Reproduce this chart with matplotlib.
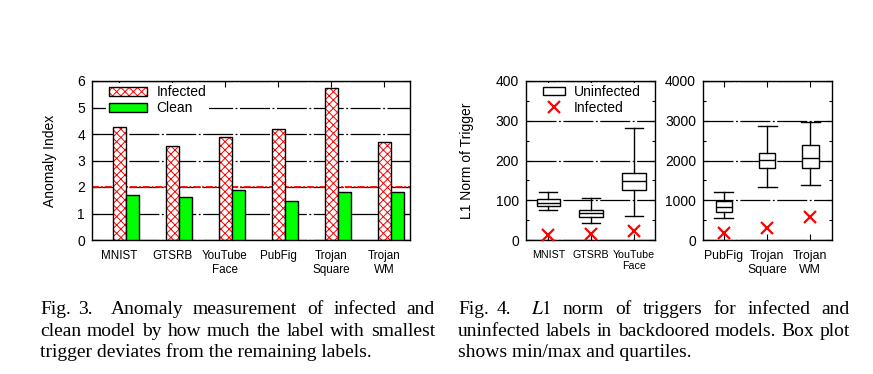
import numpy as np
import matplotlib
matplotlib.use('Agg')
import matplotlib.pyplot as plt
from matplotlib.patches import Patch
from matplotlib.lines import Line2D
from matplotlib.ticker import MultipleLocator

plt.rcParams['font.family'] = ['Liberation Sans', 'DejaVu Sans']
plt.rcParams['mathtext.fontset'] = 'stix'
plt.rcParams['hatch.linewidth'] = 0.7

# fig 3 data: anomaly index
models = ['MNIST', 'GTSRB', 'YouTube\nFace', 'PubFig', 'Trojan\nSquare', 'Trojan\nWM']
anomaly_infected = [4.28, 3.54, 3.90, 4.17, 5.75, 3.68]
anomaly_clean = [1.68, 1.64, 1.87, 1.47, 1.83, 1.83]
threshold = 2

# fig 4 data: L1 norm of triggers (box plot stats)
small_models = ['MNIST', 'GTSRB', 'YouTube\nFace']
small_min = [75, 44, 60]
small_q1 = [85, 57, 127]
small_med = [94, 67, 148]
small_q3 = [102, 75, 168]
small_max = [120, 105, 281]
small_infected = [12, 15, 23]

big_models = ['PubFig', 'Trojan\nSquare', 'Trojan\nWM']
big_min = [545, 1325, 1375]
big_q1 = [713, 1803, 1803]
big_med = [830, 2004, 2055]
big_q3 = [990, 2180, 2398]
big_max = [1200, 2860, 2980]
big_infected = [185, 310, 570]

W, H = 873, 374
fig = plt.figure(figsize=(W / 100, H / 100), dpi=100)


def px_axes(x0, y0, x1, y1):
    return fig.add_axes([x0 / W, 1 - y1 / H, (x1 - x0) / W, (y1 - y0) / H])


# gnuplot-like grid: long dash, short dot
grid_ls = (0, (24, 2, 1.5, 2))


def style(ax):
    ax.tick_params(direction='in', top=True, right=True, length=4, width=0.8,
                   labelsize=10, pad=5)
    ax.tick_params(axis='x', pad=7)
    ax.tick_params(which='minor', direction='in', top=False, right=True,
                   length=2, width=0.8)
    for s in ax.spines.values():
        s.set_linewidth(1.0)
    ax.set_axisbelow(True)
    ax.yaxis.grid(True, color='black', lw=0.9, linestyle=grid_ls)


# ---- Fig. 3 ----
ax1 = px_axes(92, 81, 410, 240)
style(ax1)
x = np.arange(len(models))
bw = 0.245
ax1.bar(x, anomaly_infected, bw, color='white', edgecolor='red', hatch='xxxx', lw=0, zorder=2)
ax1.bar(x, anomaly_infected, bw, fill=False, edgecolor='black', lw=1, zorder=3)
ax1.bar(x + bw, anomaly_clean, bw, color='#00ff00', edgecolor='black', lw=1, zorder=3)
ax1.axhline(threshold, color='red', lw=1.3, ls=(0, (4, 1, 1, 1)), zorder=1.5)
ax1.set_xlim(-0.51, 5.49)
ax1.set_ylim(0, 6)
ax1.yaxis.set_major_locator(MultipleLocator(1))
ax1.set_xticks(x, models, fontsize=8.4)
ax1.set_ylabel('Anomaly Index', fontsize=10, va='center')
ax1.yaxis.set_label_coords(-42 / 318, 0.5)

h_inf = (Patch(facecolor='white', edgecolor='red', hatch='xxxx', lw=0),
         Patch(fill=False, edgecolor='black', lw=1))
h_cln = Patch(facecolor='#00ff00', edgecolor='black', lw=1)
ax1.legend([h_inf, h_cln], ['Infected', 'Clean'], loc='upper left',
           bbox_to_anchor=(0.045, 0.99), fontsize=10, frameon=True, framealpha=1,
           edgecolor='none', fancybox=False, handlelength=2.7, handleheight=0.55,
           handletextpad=0.7, labelspacing=0.15, borderpad=0.2, borderaxespad=0)


# ---- Fig. 4 ----
def box_stats(mins, q1, med, q3, maxs):
    return [dict(whislo=a, q1=b, med=c, q3=d, whishi=e, fliers=[])
            for a, b, c, d, e in zip(mins, q1, med, q3, maxs)]


box_kw = dict(patch_artist=True, manage_ticks=False,
              boxprops=dict(facecolor='white', edgecolor='black', lw=1),
              medianprops=dict(color='black', lw=1),
              whiskerprops=dict(color='black', lw=1),
              capprops=dict(color='black', lw=1), zorder=3)

ax2 = px_axes(526, 81, 655, 240)
style(ax2)
ax2.bxp(box_stats(small_min, small_q1, small_med, small_q3, small_max),
        positions=range(3), widths=0.55, capwidths=0.42, **box_kw)
ax2.plot(range(3), small_infected, 'x', color='red', ms=8, mew=1.6, ls='none',
         clip_on=False, zorder=4)
ax2.set_xlim(-0.52, 2.49)
ax2.set_ylim(0, 400)
ax2.yaxis.set_major_locator(MultipleLocator(100))
ax2.yaxis.set_minor_locator(MultipleLocator(50))
ax2.set_xticks(range(3), small_models, fontsize=7.7)
ax2.set_ylabel('L1 Norm of Trigger', fontsize=10, va='center')
ax2.yaxis.set_label_coords(-59 / 129, 0.5)
ax2.legend([Patch(facecolor='white', edgecolor='black', lw=1),
            Line2D([], [], marker='x', color='red', ls='none', ms=8, mew=1.6)],
           ['Uninfected', 'Infected'], loc='upper left',
           bbox_to_anchor=(0.11, 0.99), fontsize=10, frameon=True, framealpha=1,
           edgecolor='none', fancybox=False, handlelength=1.6, handleheight=0.5,
           handletextpad=0.6, labelspacing=0.1, borderpad=0.2, borderaxespad=0)

ax3 = px_axes(703, 81, 832, 240)
style(ax3)
ax3.bxp(box_stats(big_min, big_q1, big_med, big_q3, big_max),
        positions=range(3), widths=0.38, capwidths=0.44, **box_kw)
ax3.plot(range(3), big_infected, 'x', color='red', ms=8, mew=1.6, ls='none',
         clip_on=False, zorder=4)
ax3.set_xlim(-0.48, 2.5)
ax3.set_ylim(0, 4000)
ax3.yaxis.set_major_locator(MultipleLocator(1000))
ax3.yaxis.set_minor_locator(MultipleLocator(500))
ax3.set_xticks(range(3), big_models, fontsize=8.8)

# ---- captions ----
cap_font = dict(fontsize=14, family=['Liberation Serif', 'DejaVu Serif'], va='baseline')
renderer = fig.canvas.get_renderer()


def caption_line(words, x0, x1, y, weights=None):
    texts = [fig.text(0, 0, w, **cap_font) for w in words]
    widths = [t.get_window_extent(renderer).width for t in texts]
    if weights is None:
        weights = [1] * (len(words) - 1)
    gap = (x1 - x0 - sum(widths)) / sum(weights)
    pos = x0
    for i, t in enumerate(texts):
        t.set_position((pos / W, 1 - y / H))
        if i < len(weights):
            pos += widths[i] + gap * weights[i]


fig3_lines = ['Fig. 3. Anomaly measurement of infected and',
              'clean model by how much the label with smallest',
              'trigger deviates from the remaining labels.']
fig4_lines = ['Fig. 4. $L1$ norm of triggers for infected and',
              'uninfected labels in backdoored models. Box plot',
              'shows min/max and quartiles.']
baselines = [314, 336, 357]

for lines, x0, x1 in [(fig3_lines, 40, 435), (fig4_lines, 458, 850)]:
    w1 = lines[0].split()
    caption_line(w1, x0, x1, baselines[0], [0.75, 1.75] + [1] * (len(w1) - 3))
    caption_line(lines[1].split(), x0, x1, baselines[1])
    fig.text(x0 / W, 1 - baselines[2] / H, lines[2], **cap_font)

fig.savefig('out.png', dpi=100)
